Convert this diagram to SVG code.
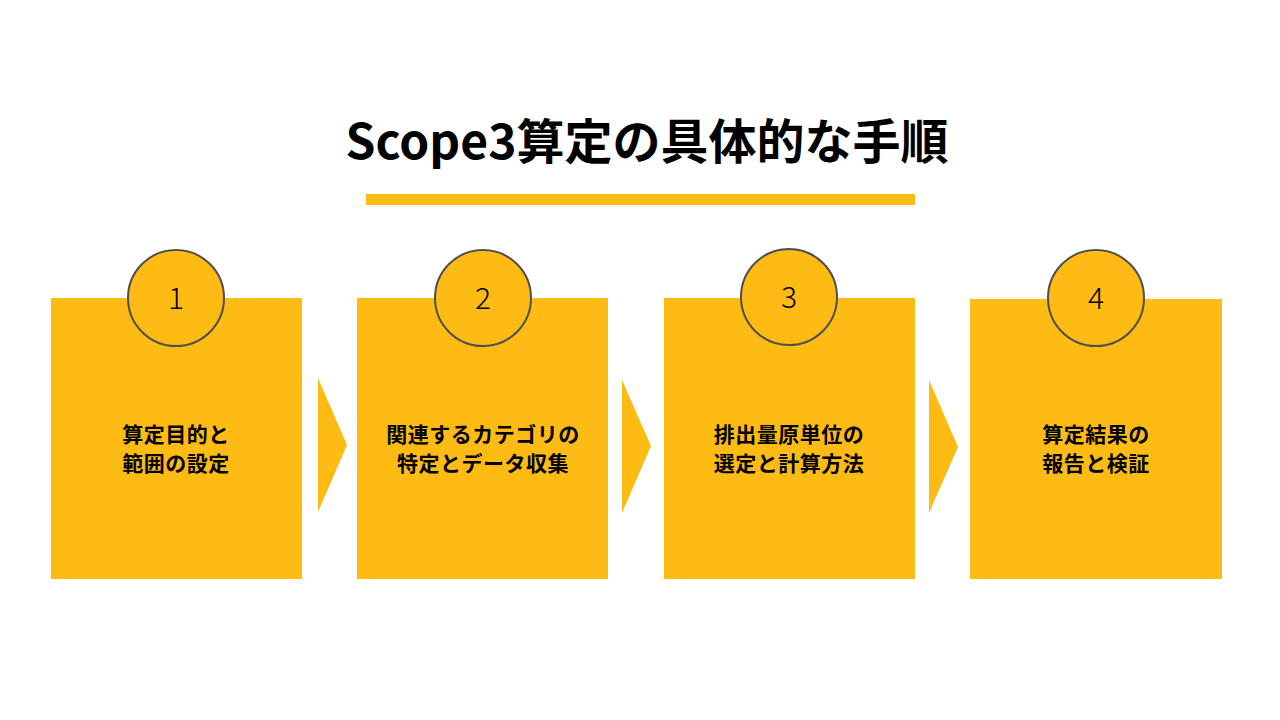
<svg xmlns="http://www.w3.org/2000/svg" width="1280" height="720" viewBox="0 0 1280 720">
<style>
.box{fill:#FDBB13}
.badge{fill:#FDBB13;stroke:#4F4F4F;stroke-width:2}
.num{font-family:"Noto Sans CJK JP","Noto Sans",sans-serif;font-size:30px;font-weight:300;fill:#000;text-anchor:middle}
.lbl{font-family:"Noto Sans CJK JP",sans-serif;font-size:21px;font-weight:bold;fill:#000;text-anchor:middle;letter-spacing:0.5px}
.arrow{fill:#FDBB13}
</style>
<rect width="1280" height="720" fill="#fff"/>
<g id="title">
<text x="647" y="159" font-family="'Noto Sans CJK JP','Noto Sans',sans-serif" font-size="48" font-weight="bold" text-anchor="middle" fill="#000">Scope3算定の具体的な手順</text>
<rect x="366" y="194" width="549" height="11" fill="#FDBB13"/>
</g>
<g id="connectors">
<polygon class="arrow" points="318,378 347,445 318,512"/>
<polygon class="arrow" points="622,380 651,446 622,513"/>
<polygon class="arrow" points="929,380 958,447 929,513"/>
</g>
<g id="step1">
<rect class="box" x="51" y="298" width="251" height="281"/>
<circle class="badge" cx="176" cy="298" r="48"/>
<text class="num" x="176" y="309">1</text>
<text class="lbl" x="176" y="442">算定目的と</text>
<text class="lbl" x="176" y="471">範囲の設定</text>
</g>
<g id="step2">
<rect class="box" x="357" y="298" width="251" height="281"/>
<circle class="badge" cx="483" cy="298" r="48"/>
<text class="num" x="483" y="309">2</text>
<text class="lbl" x="483" y="442">関連するカテゴリの</text>
<text class="lbl" x="483" y="471">特定とデータ収集</text>
</g>
<g id="step3">
<rect class="box" x="664" y="298" width="251" height="281"/>
<circle class="badge" cx="789" cy="297" r="48"/>
<text class="num" x="789" y="308">3</text>
<text class="lbl" x="789" y="442">排出量原単位の</text>
<text class="lbl" x="789" y="471">選定と計算方法</text>
</g>
<g id="step4">
<rect class="box" x="970" y="299" width="252" height="280"/>
<circle class="badge" cx="1096" cy="298" r="48"/>
<text class="num" x="1096" y="309">4</text>
<text class="lbl" x="1096" y="442">算定結果の</text>
<text class="lbl" x="1096" y="471">報告と検証</text>
</g>
</svg>
